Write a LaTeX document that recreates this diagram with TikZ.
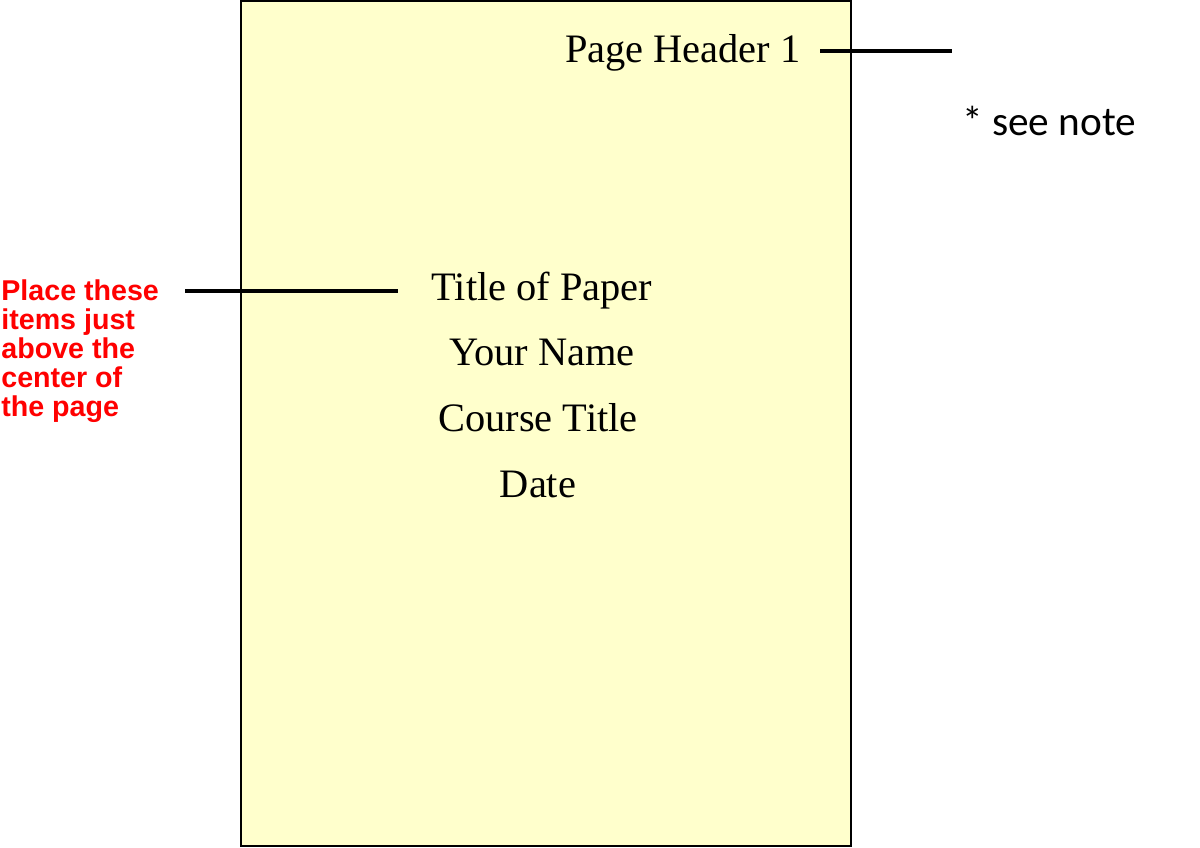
\documentclass[tikz,border=0pt]{standalone}
\usepackage{fontspec}
\setmainfont{Liberation Serif}
\newfontfamily\notefont{Carlito}
\newfontfamily\hintfont{Liberation Sans}
\usepackage{tikz}
\usetikzlibrary{positioning}

\definecolor{paper}{HTML}{FFFFCC}
\definecolor{hintred}{HTML}{FF0000}

\begin{document}
\begin{tikzpicture}
      [x=0.02cm,y=-0.02cm,
       item/.style={anchor=base,inner sep=0pt,font=\fontsize{23}{23}\selectfont},
       leader/.style={line width=2.4pt}]
    \useasboundingbox (0,0) rectangle (1200,848);
    \fill[white] (0,0) rectangle (1200,848);
    \draw[fill=paper,line width=1.6pt] (241,1) rectangle (851,846);

    \node[item,anchor=base east]  (header)  at (801,63) {Page Header 1};
    \node[anchor=base west,inner sep=0pt,font=\notefont\fontsize{23.5}{23.5}\selectfont]
          (seenote) at (962,135) {* see note};

    \node[item]  (title)  at (542,300) {Title of Paper};
    \node[item]  (name)   [below=1.31cm of title.base,anchor=base] {Your Name};
    \node[item]  (course) [below=1.33cm of name.base,anchor=base,xshift=-0.08cm] {Course Title};
    \node[item]  (date)   [below=1.31cm of course.base,anchor=base] {Date};

    \node[anchor=north west,inner sep=0pt,align=left,text=hintred,
          font=\hintfont\bfseries\fontsize{16.3}{16.6}\selectfont]
          (hint) at (1,279) {Place these\\items just\\above the\\center of\\the page};

    \coordinate (hdrstart) at (820,51);
    \coordinate (hdrend)   at (952,51);
    \coordinate (ptrstart) at (185,291);
    \coordinate (ptrend)   at (398,291);

    \draw [leader] (hdrstart) -- (hdrend);
    \draw [leader] (ptrstart) -- (ptrend);
\end{tikzpicture}
\end{document}
